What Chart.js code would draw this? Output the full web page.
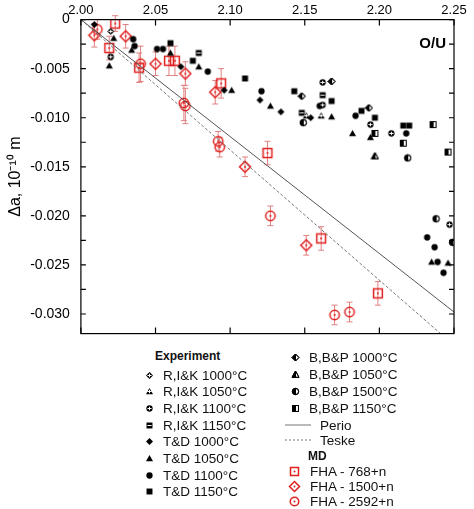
<!DOCTYPE html>
<html>
<head>
<meta charset="utf-8">
<script src="https://cdn.jsdelivr.net/npm/chart.js@4.4.0/dist/chart.umd.min.js"></script>
<style>
  body { margin: 0; background: #fff; font-family: "Liberation Sans", Arial, sans-serif; }
  #wrap { position: relative; width: 474px; height: 345px; }
  #legend { position: relative; width: 474px; height: 164px; font-size: 13.5px; color: #111; }
  .row { position: absolute; display: flex; align-items: center; height: 16px; white-space: nowrap; }
  .row canvas { margin-right: 9px; }
  .hdr { position: absolute; font-weight: bold; font-size: 12px; }
</style>
</head>
<body>
<div id="wrap"><canvas id="c"></canvas></div>
<div id="legend"></div>
<script>
// Series data (x = O/U, y = Δa in 10^-10 m)
const tdX1000 = [2.009, 2.067, 2.096, 2.120, 2.134, 2.154];
const tdY1000 = [-0.0005, -0.0048, -0.0072, -0.0082, -0.0094, -0.0100];
const tdX1050 = [2.022, 2.019, 2.034, 2.060, 2.079, 2.101, 2.127, 2.168, 2.182, 2.194, 2.235, 2.246];
const tdY1050 = [-0.0019, -0.0047, -0.0031, -0.0034, -0.0048, -0.0072, -0.0088, -0.0099, -0.0116, -0.0120, -0.0247, -0.0248];
const tdX1100 = [2.035, 2.036, 2.051, 2.055, 2.085, 2.121, 2.160, 2.184, 2.218, 2.232, 2.237, 2.239, 2.243];
const tdY1100 = [-0.0020, -0.0027, -0.0030, -0.0030, -0.0053, -0.0073, -0.0088, -0.0098, -0.0116, -0.0222, -0.0232, -0.0247, -0.0258];
const tdX1150 = [2.060, 2.075, 2.110, 2.143, 2.168, 2.188, 2.197, 2.216, 2.220];
const tdY1150 = [-0.0024, -0.0042, -0.0060, -0.0073, -0.0083, -0.0093, -0.0100, -0.0108, -0.0108];

const rikX1000 = [2.020];
const rikY1000 = [-0.0012];
const rikX1050 = [2.151, 2.161];
const rikY1050 = [-0.0098, -0.0098];
const rikX1100 = [2.020, 2.162, 2.162, 2.194, 2.208, 2.247];
const rikY1100 = [-0.0038, -0.0064, -0.0087, -0.0107, -0.0116, -0.0209];
const rikX1150 = [2.079, 2.148, 2.162];
const rikY1150 = [-0.0034, -0.0095, -0.0077];

const bbpX1000 = [2.148, 2.168, 2.193];
const bbpY1000 = [-0.0078, -0.0063, -0.0090];
const bbpX1050 = [2.197];
const bbpY1050 = [-0.0139];
const bbpX1500 = [2.149, 2.219, 2.238, 2.249];
const bbpY1500 = [-0.0105, -0.0141, -0.0203, -0.0227];
const bbpX1150 = [2.197, 2.216, 2.236, 2.246];
const bbpY1150 = [-0.0116, -0.0126, -0.0107, -0.0135];

const fha768X = [2.023, 2.019, 2.039, 2.059, 2.063, 2.094, 2.125, 2.161, 2.199];
const fha768Y = [-0.0004, -0.0029, -0.0049, -0.0042, -0.0042, -0.0065, -0.0136, -0.0223, -0.0279];
const fha768E = [0.0008, 0.0012, 0.0015, 0.0015, 0.0015, 0.0015, 0.0012, 0.0012, 0.0012];
const fha1500X = [2.009, 2.030, 2.050, 2.070, 2.090, 2.110, 2.151];
const fha1500Y = [-0.0016, -0.0017, -0.0045, -0.0055, -0.0074, -0.0150, -0.0230];
const fha1500E = [0.0012, 0.0012, 0.0012, 0.0012, 0.0012, 0.0010, 0.0010];
const fha2592X = [2.011, 2.040, 2.069, 2.070, 2.092, 2.093, 2.127, 2.170, 2.180];
const fha2592Y = [-0.0010, -0.0045, -0.0085, -0.0088, -0.0124, -0.0130, -0.0200, -0.0301, -0.0298];
const fha2592E = [0.0010, 0.0018, 0.0018, 0.0018, 0.0010, 0.0010, 0.0010, 0.0010, 0.0010];

const perioX = [2.00, 2.25];
const perioY = [0, -0.0298];
const teskeX = [2.00, 2.25];
const teskeY = [0, -0.0332];

const xTicks = [2.00, 2.05, 2.10, 2.15, 2.20, 2.25];
const yTicks = [0, -0.005, -0.010, -0.015, -0.020, -0.025, -0.030];

const RED = '#e0201f';

function icon(kind, s) {
  const c = document.createElement('canvas');
  c.width = s; c.height = s;
  const g = c.getContext('2d');
  const m = s / 2, r = s / 2 - 1;
  g.fillStyle = '#000'; g.strokeStyle = '#000'; g.lineWidth = 1;
  const shape = (k) => {
    g.beginPath();
    if (k === 'diamond') { g.moveTo(m, m - r); g.lineTo(m + r, m); g.lineTo(m, m + r); g.lineTo(m - r, m); g.closePath(); }
    else if (k === 'triangle') { g.moveTo(m, m - r); g.lineTo(m + r, m + r * 0.8); g.lineTo(m - r, m + r * 0.8); g.closePath(); }
    else if (k === 'circle') { g.arc(m, m, r * 0.9, 0, Math.PI * 2); }
    else { g.rect(m - r * 0.85, m - r * 0.85, r * 1.7, r * 1.7); }
  };
  const [fam, k] = kind.split('-');
  if (fam === 'td') { shape(k); g.fill(); }
  else if (fam === 'rik') {
    shape(k); g.fill();
    g.strokeStyle = '#fff'; g.beginPath(); g.moveTo(m - r * 0.6, m); g.lineTo(m + r * 0.6, m); g.stroke();
    if (k !== 'rect') { g.beginPath(); g.moveTo(m, m - r * 0.5); g.lineTo(m, m + r * 0.5); g.stroke(); }
  } else if (fam === 'bbp') {
    shape(k); g.fillStyle = '#fff'; g.fill(); g.stroke();
    g.save(); shape(k); g.clip(); g.fillStyle = '#000'; g.fillRect(0, 0, m + 0.5, s); g.restore();
    shape(k); g.stroke();
  } else {
    g.strokeStyle = RED; g.fillStyle = RED; g.lineWidth = 1.5;
    const rr = r - 0.5;
    g.beginPath();
    if (k === 'rect') g.rect(m - rr * 0.8, m - rr * 0.8, rr * 1.6, rr * 1.6);
    else if (k === 'diamond') { g.moveTo(m, m - rr); g.lineTo(m + rr, m); g.lineTo(m, m + rr); g.lineTo(m - rr, m); g.closePath(); }
    else g.arc(m, m, rr * 0.85, 0, Math.PI * 2);
    g.stroke();
    g.beginPath(); g.arc(m, m, 1, 0, Math.PI * 2); g.fill();
  }
  return c;
}

const pts = (xs, ys) => xs.map((x, i) => ({ x, y: ys[i] }));

const exp = [
  ['R,I&K 1000°C', 'rik-diamond', rikX1000, rikY1000],
  ['R,I&K 1050°C', 'rik-triangle', rikX1050, rikY1050],
  ['R,I&K 1100°C', 'rik-circle', rikX1100, rikY1100],
  ['R,I&K 1150°C', 'rik-rect', rikX1150, rikY1150],
  ['T&D 1000°C', 'td-diamond', tdX1000, tdY1000],
  ['T&D 1050°C', 'td-triangle', tdX1050, tdY1050],
  ['T&D 1100°C', 'td-circle', tdX1100, tdY1100],
  ['T&D 1150°C', 'td-rect', tdX1150, tdY1150],
  ['B,B&P 1000°C', 'bbp-diamond', bbpX1000, bbpY1000],
  ['B,B&P 1050°C', 'bbp-triangle', bbpX1050, bbpY1050],
  ['B,B&P 1500°C', 'bbp-circle', bbpX1500, bbpY1500],
  ['B,B&P 1150°C', 'bbp-rect', bbpX1150, bbpY1150]
];
const md = [
  ['FHA - 768+n', 'md-rect', fha768X, fha768Y, fha768E],
  ['FHA - 1500+n', 'md-diamond', fha1500X, fha1500Y, fha1500E],
  ['FHA - 2592+n', 'md-circle', fha2592X, fha2592Y, fha2592E]
];

const datasets = [
  { label: 'Perio', type: 'line', data: pts(perioX, perioY), borderColor: '#555', borderWidth: 1, pointRadius: 0 },
  { label: 'Teske', type: 'line', data: pts(teskeX, teskeY), borderColor: '#777', borderWidth: 1, borderDash: [3, 2], pointRadius: 0 }
];
exp.forEach(([l, k, xs, ys]) => datasets.push({ label: l, data: pts(xs, ys), pointStyle: icon(k, 9) }));
md.forEach(([l, k, xs, ys, es]) => datasets.push({ label: l, data: pts(xs, ys), pointStyle: icon(k, 14), errors: es }));

const extras = {
  id: 'extras',
  beforeDatasetsDraw(chart) {
    const { ctx, scales: { x, y } } = chart;
    ctx.save();
    ctx.strokeStyle = '#e08080'; ctx.lineWidth = 1;
    chart.data.datasets.forEach(ds => {
      if (!ds.errors) return;
      ds.data.forEach((p, i) => {
        const px = x.getPixelForValue(p.x);
        const t = y.getPixelForValue(p.y + ds.errors[i]), b = y.getPixelForValue(p.y - ds.errors[i]);
        ctx.beginPath();
        ctx.moveTo(px, t); ctx.lineTo(px, b);
        ctx.moveTo(px - 3, t); ctx.lineTo(px + 3, t);
        ctx.moveTo(px - 3, b); ctx.lineTo(px + 3, b);
        ctx.stroke();
      });
    });
    ctx.restore();
  },
  afterDraw(chart) {
    const { ctx, chartArea: a, scales: { x, y } } = chart;
    ctx.save();
    ctx.strokeStyle = '#000'; ctx.lineWidth = 1.2;
    ctx.strokeRect(a.left, a.top, a.right - a.left, a.bottom - a.top);
    ctx.beginPath();
    xTicks.forEach(v => {
      const px = x.getPixelForValue(v);
      ctx.moveTo(px, a.top); ctx.lineTo(px, a.top + 6);
      ctx.moveTo(px, a.bottom); ctx.lineTo(px, a.bottom - 6);
    });
    for (let i = 0; i <= 12; i++) {
      const py = y.getPixelForValue(-0.0025 * i);
      ctx.moveTo(a.left, py); ctx.lineTo(a.left + 5, py);
      ctx.moveTo(a.right, py); ctx.lineTo(a.right - 5, py);
    }
    ctx.stroke();
    ctx.fillStyle = '#000';
    ctx.font = 'bold 15px "Liberation Sans", Arial';
    ctx.textAlign = 'right';
    ctx.fillText('O/U', a.right - 8, a.top + 28);
    ctx.restore();
  }
};

new Chart(document.getElementById('c'), {
  type: 'scatter',
  data: { datasets },
  plugins: [extras],
  options: {
    responsive: true, maintainAspectRatio: false, animation: false,
    layout: { padding: { left: 4, right: 20, bottom: 6, top: 2 } },
    plugins: { legend: { display: false }, tooltip: { enabled: false } },
    elements: { point: { radius: 4 } },
    scales: {
      x: {
        type: 'linear', position: 'top', min: 2.0, max: 2.25,
        afterBuildTicks: s => { s.ticks = xTicks.map(v => ({ value: v })); },
        ticks: { color: '#000', font: { size: 13 }, callback: v => v.toFixed(2), maxRotation: 0, padding: 1 },
        grid: { display: false, drawTicks: false }, border: { display: false }
      },
      y: {
        type: 'linear', min: -0.032, max: 0,
        afterBuildTicks: s => { s.ticks = yTicks.map(v => ({ value: v })); },
        ticks: { color: '#000', font: { size: 14 }, callback: v => v === 0 ? '0' : v.toFixed(3) },
        grid: { display: false }, border: { display: false },
        title: { display: true, text: 'Δa, 10⁻¹⁰ m', color: '#000', font: { size: 16 }, padding: 2 }
      }
    }
  }
});

// HTML legend
const lg = document.getElementById('legend');
function addRow(x, y, el, text) {
  const r = document.createElement('div');
  r.className = 'row'; r.style.left = x + 'px'; r.style.top = y + 'px';
  r.appendChild(el);
  const t = document.createElement('span'); t.textContent = text; r.appendChild(t);
  lg.appendChild(r);
}
function hdr(x, y, text) {
  const h = document.createElement('div'); h.className = 'hdr';
  h.style.left = x + 'px'; h.style.top = y + 'px'; h.textContent = text; lg.appendChild(h);
}
function lineIcon(dash) {
  const c = document.createElement('canvas'); c.width = 26; c.height = 10;
  const g = c.getContext('2d'); g.strokeStyle = '#777'; g.setLineDash(dash);
  g.beginPath(); g.moveTo(0, 5); g.lineTo(26, 5); g.stroke(); return c;
}
hdr(155, 4, 'Experiment');
exp.slice(0, 8).forEach(([l, k], i) => addRow(145, 22 + i * 16.7, icon(k, 9), l));
exp.slice(8).forEach(([l, k], i) => addRow(291, 4 + i * 17, icon(k, 9), l));
addRow(285, 72, lineIcon([]), 'Perio');
addRow(285, 87, lineIcon([2, 2]), 'Teske');
hdr(308, 104, 'MD');
md.forEach(([l, k], i) => addRow(288, 118 + i * 15, icon(k, 13), l));
</script>
</body>
</html>
